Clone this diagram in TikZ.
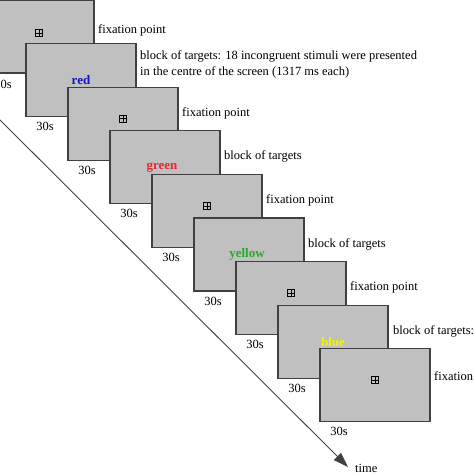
\documentclass[tikz,border=0pt]{standalone}
\usepackage{fontspec}
\setmainfont{Liberation Serif}
\usepackage{xcolor}
\usepackage{tikz}
\usetikzlibrary{positioning, arrows.meta}

\definecolor{screengray}{RGB}{192,192,192}
\definecolor{edgegray}{RGB}{64,64,64}
\definecolor{wordblue}{RGB}{20,20,200}
\definecolor{wordred}{RGB}{230,40,50}
\definecolor{wordgreen}{RGB}{40,170,40}
\definecolor{wordyellow}{RGB}{245,245,0}

\begin{document}
\begin{tikzpicture}[x=1pt, y=-1pt,
    screen/.style={draw=edgegray, fill=screengray, line width=1.1pt, minimum width=110pt, minimum height=73pt, inner sep=0pt},
    fixcross/.style={draw=black, line width=0.7pt, minimum size=7pt, inner sep=0pt,
        path picture={\draw[line width=0.6pt] (path picture bounding box.north) -- (path picture bounding box.south)
            (path picture bounding box.west) -- (path picture bounding box.east);}},
    word/.style={font=\fontsize{13}{15}\selectfont\bfseries, inner sep=0pt},
    note/.style={font=\fontsize{12.5}{16}\selectfont, anchor=west, inner sep=0pt, align=left},
    dur/.style={font=\fontsize{12.5}{15}\selectfont, inner sep=0pt},
]
\useasboundingbox (0,0) rectangle (474,474);

% Time axis
\coordinate (tstart) at (-10,110);
\coordinate (tend) at (348,467);
\draw[edgegray, line width=0.9pt, -{Triangle[length=15pt, width=10pt]}] (tstart) -- (tend);
\node[dur, anchor=base west] (timelbl) at (355,472) {time};

% Screens, from first to last
\node[screen] (sc0) at (39,36.5) {};
\node[fixcross] (fx0) at (39,33) {};
\node[note] (lb0) at (98,30) {fixation point};
\node[dur, anchor=west] (d0) at (0.5,84) {0s};

\node[screen] (sc1) at (81,80.1) {};
\node[word, text=wordblue] (w1) at (81,80.1) {red};
\node[note] (lb1) at (140,64) {block of targets: 18 incongruent stimuli were presented\\in the centre of the screen (1317 ms each)};
\node[dur] (d1) at (45,126.6) {30s};

\node[screen] (sc2) at (123,123.7) {};
\node[fixcross] (fx2) at (123,118.7) {};
\node[note] (lb2) at (182,113.2) {fixation point};
\node[dur] (d2) at (87,170.2) {30s};

\node[screen] (sc3) at (165,167.3) {};
\node[word, text=wordred] (w3) at (162,167.3) {green};
\node[note] (lb3) at (224,156.8) {block of targets};
\node[dur] (d3) at (129,213.8) {30s};

\node[screen] (sc4) at (207,210.9) {};
\node[fixcross] (fx4) at (207,205.9) {};
\node[note] (lb4) at (266,200.4) {fixation point};
\node[dur] (d4) at (171,257.4) {30s};

\node[screen] (sc5) at (249,254.5) {};
\node[word, text=wordgreen] (w5) at (247,254.5) {yellow};
\node[note] (lb5) at (308,244) {block of targets};
\node[dur] (d5) at (213,301) {30s};

\node[screen] (sc6) at (291,298.1) {};
\node[fixcross] (fx6) at (291,293.1) {};
\node[note] (lb6) at (350,287.6) {fixation point};
\node[dur] (d6) at (255,344.6) {30s};

\node[screen] (sc7) at (333,341.7) {};
\node[word, text=wordyellow] (w7) at (333,341.7) {blue};
\node[note] (lb7) at (393,331.2) {block of targets:};
\node[dur] (d7) at (297,388.2) {30s};

\node[screen] (sc8) at (375,385.3) {};
\node[fixcross] (fx8) at (375,380.3) {};
\node[note] (lb8) at (434,376) {fixation};
\node[dur] (d8) at (339,431.8) {30s};
\end{tikzpicture}
\end{document}
